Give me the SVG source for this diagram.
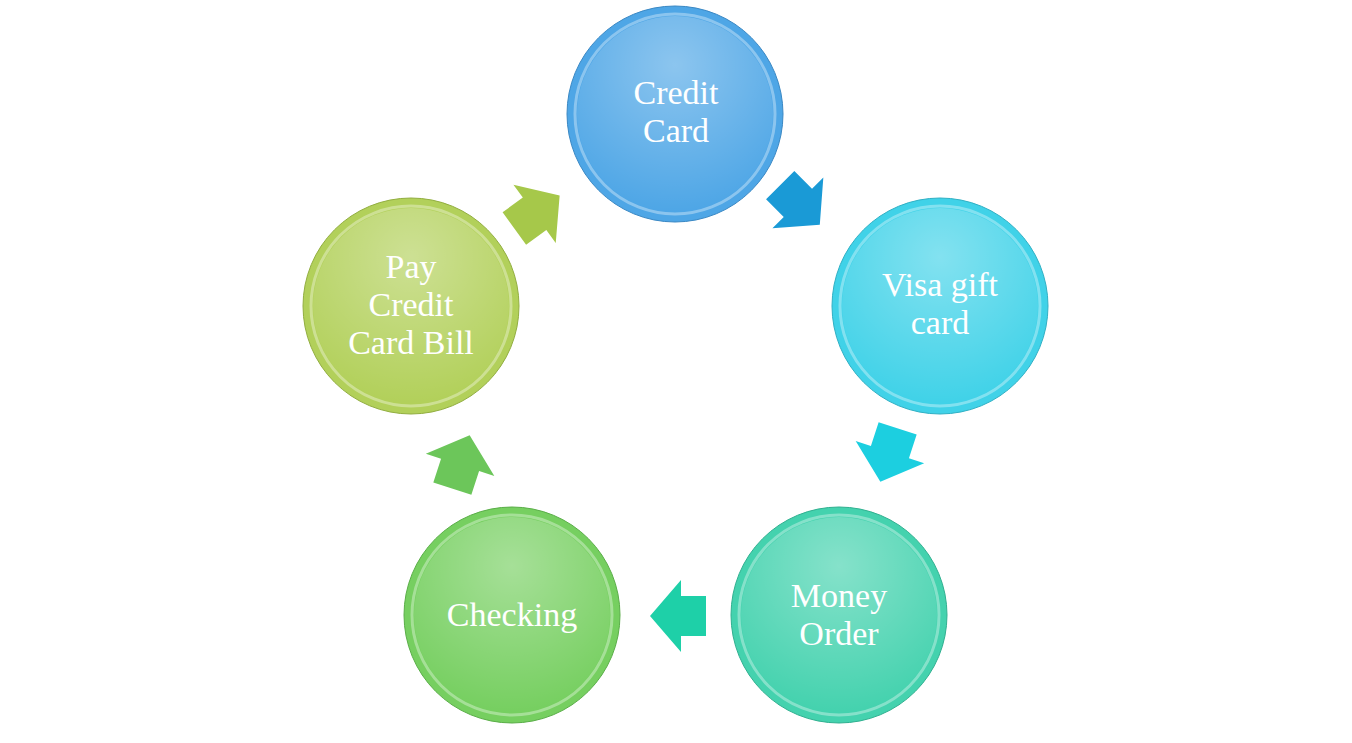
<svg xmlns="http://www.w3.org/2000/svg" width="1352" height="743" viewBox="0 0 1352 743">
<style>
.t{font-family:"Liberation Serif","DejaVu Serif",serif;font-size:34px;fill:#fff;text-anchor:middle}
.rim{fill:none;stroke:#fff;stroke-opacity:0.35;stroke-width:3}
</style>
<defs>
<radialGradient id="gl" cx="0.5" cy="0.25" r="0.75"><stop offset="0" stop-color="#fff" stop-opacity="0.35"/><stop offset="1" stop-color="#fff" stop-opacity="0"/></radialGradient>
<polygon id="ar" points="-28,-20 -3,-20 -3,-36 28,0 -3,36 -3,20 -28,20"/>
</defs>
<rect width="1352" height="743" fill="#fff"/>
<g id="connectors">
<use href="#ar" fill="#1a9ad6" transform="translate(800,205) rotate(45)"/>
<use href="#ar" fill="#1ccfe0" transform="translate(889,455) rotate(108)"/>
<use href="#ar" fill="#1ed0a8" transform="translate(678,616) rotate(180)"/>
<use href="#ar" fill="#6cc65a" transform="translate(461,462) rotate(-72)"/>
<use href="#ar" fill="#a6c84a" transform="translate(537,212) rotate(-36)"/>
</g>
<g id="credit-card"><circle cx="675" cy="114" r="108" fill="#4ea6e6" stroke="#3a88c4"/><circle cx="675" cy="114" r="98" fill="url(#gl)"/><circle cx="675" cy="114" r="100" class="rim"/>
<text class="t" x="676" y="104">Credit</text><text class="t" x="676" y="142">Card</text></g>
<g id="visa"><circle cx="940" cy="306" r="108" fill="#40d2e8" stroke="#30b0c4"/><circle cx="940" cy="306" r="98" fill="url(#gl)"/><circle cx="940" cy="306" r="100" class="rim"/>
<text class="t" x="940" y="296">Visa gift</text><text class="t" x="940" y="334">card</text></g>
<g id="money"><circle cx="839" cy="615" r="108" fill="#44d2ae" stroke="#30b090"/><circle cx="839" cy="615" r="98" fill="url(#gl)"/><circle cx="839" cy="615" r="100" class="rim"/>
<text class="t" x="839" y="607">Money</text><text class="t" x="839" y="645">Order</text></g>
<g id="checking"><circle cx="512" cy="615" r="108" fill="#76cf60" stroke="#5aae48"/><circle cx="512" cy="615" r="98" fill="url(#gl)"/><circle cx="512" cy="615" r="100" class="rim"/>
<text class="t" x="512" y="626">Checking</text></g>
<g id="pay"><circle cx="411" cy="306" r="108" fill="#b2d05a" stroke="#92ae40"/><circle cx="411" cy="306" r="98" fill="url(#gl)"/><circle cx="411" cy="306" r="100" class="rim"/>
<text class="t" x="411" y="278">Pay</text><text class="t" x="411" y="316">Credit</text><text class="t" x="411" y="354">Card Bill</text></g>
</svg>
